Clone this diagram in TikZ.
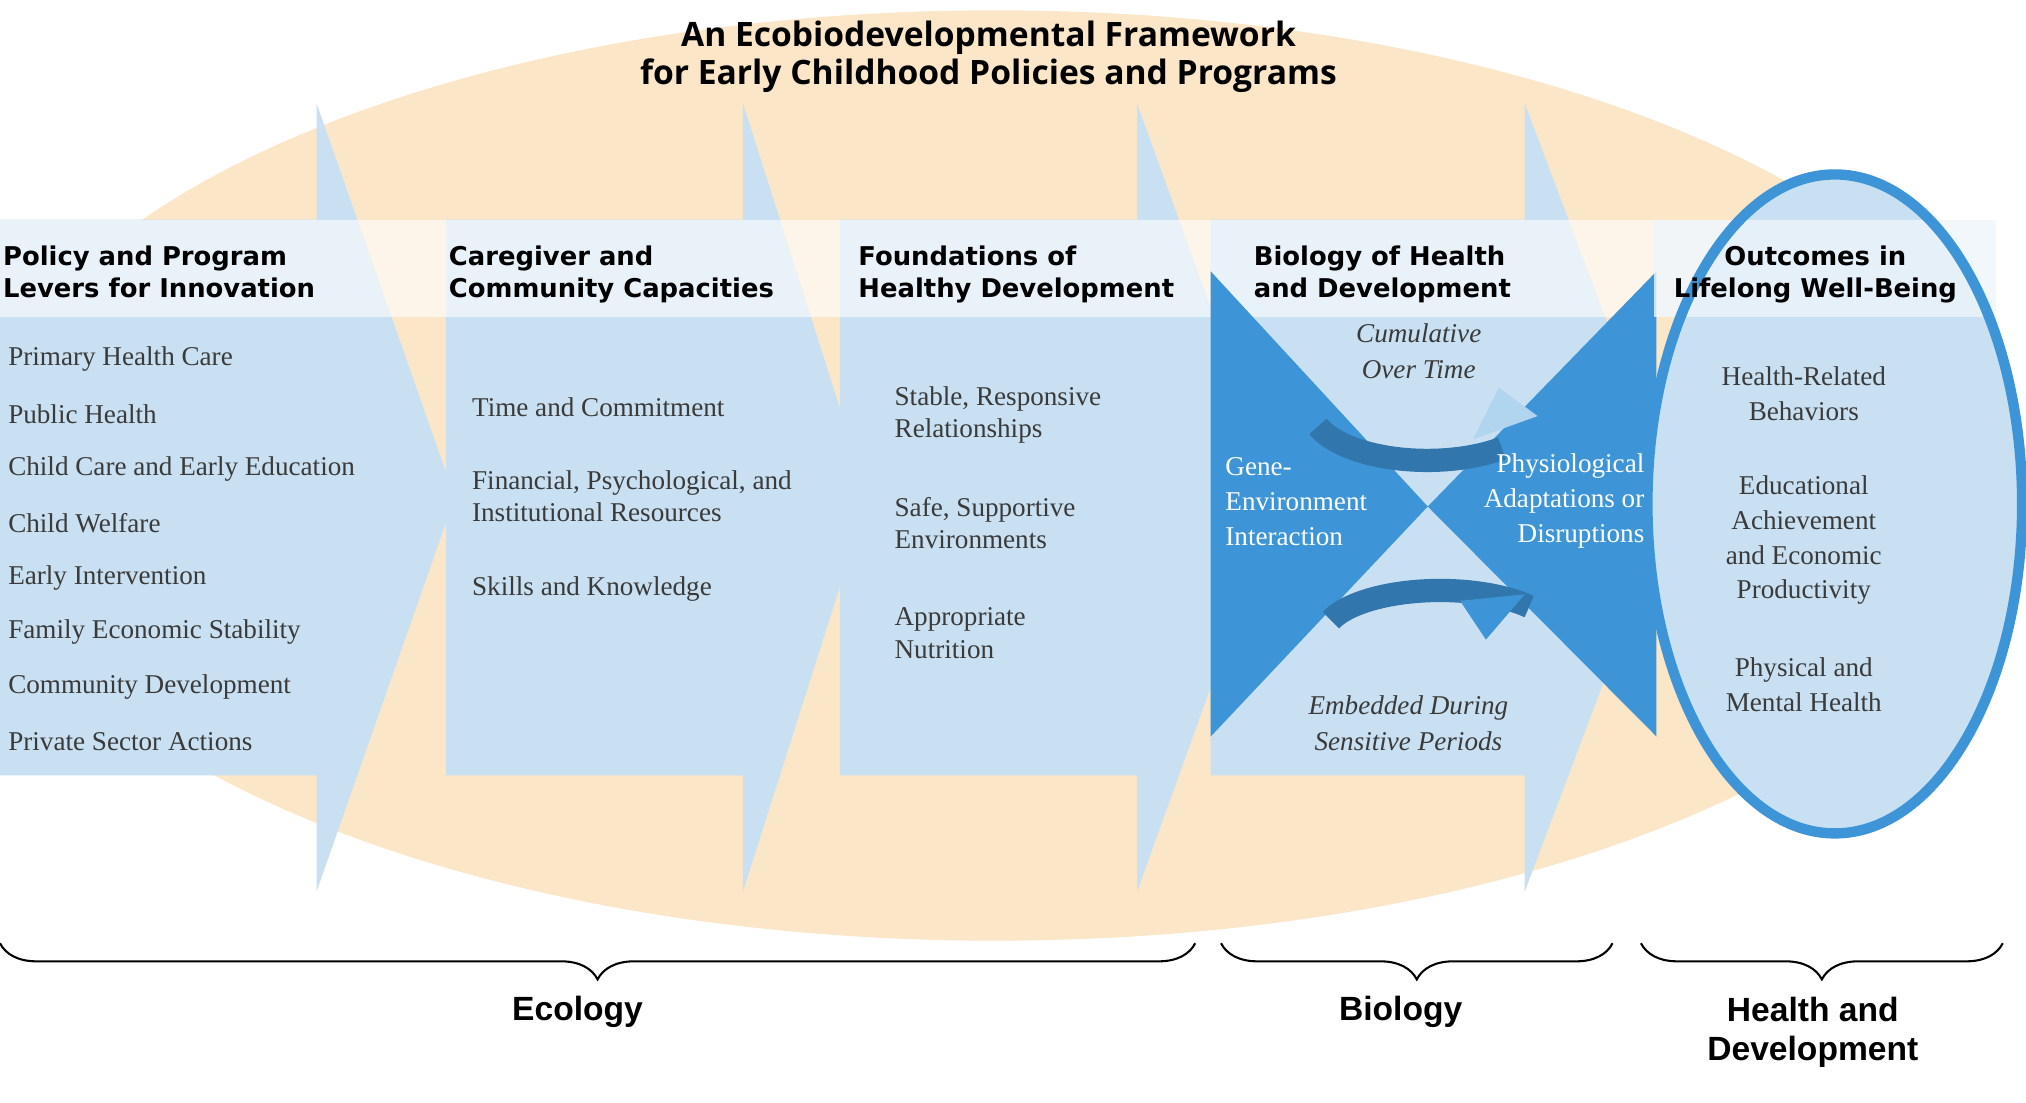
\documentclass[tikz,border=0pt]{standalone}
\usepackage{fontspec}
\setmainfont{Liberation Serif}
\newfontfamily\titlef{Open Sans}
\newfontfamily\headf{DejaVu Sans}
\newfontfamily\labf{Liberation Sans}
\usetikzlibrary{arrows.meta,decorations.pathreplacing}
\definecolor{peach}{HTML}{FCE6C8}
\definecolor{lblue}{HTML}{C8E0F1}
\definecolor{dblue}{HTML}{3D95D8}
\definecolor{hband}{HTML}{EEF5FB}
\definecolor{txt}{HTML}{3A3A3A}
\tikzset{
 head/.style={font=\headf\bfseries\fontsize{10}{12.5}\selectfont,align=left,anchor=north west,text=black,inner sep=0},
 item/.style={font=\fontsize{10.5}{12.5}\selectfont,align=left,anchor=west,text=txt,inner sep=0},
 citem/.style={font=\fontsize{10.5}{13.5}\selectfont,align=center,text=txt,inner sep=0},
 ital/.style={font=\itshape\fontsize{10.5}{14}\selectfont,align=center,text=txt,inner sep=0},
 witem/.style={font=\fontsize{10.5}{13.5}\selectfont,text=white,inner sep=0},
 brace/.style={decorate,decoration={brace,amplitude=14pt},line width=0.8pt},
 blab/.style={font=\labf\bfseries\fontsize{13}{15}\selectfont,align=center}
}
\begin{document}
\begin{tikzpicture}[x=0.5pt,y=-0.5pt]
\useasboundingbox (0,0) rectangle (1568,853);
\fill[white] (0,0) rectangle (1568,853);
\begin{scope}
\clip (0,0) rectangle (1568,853);
\fill[peach] (770,368) ellipse [x radius=790, y radius=360];
\end{scope}
% chevrons
\foreach \a/\b/\t in {0/245/352, 345/575/672, 650/880/990, 937/1180/1295}{
 \fill[lblue] (\a,170) -- (\b,170) -- (\b,80) -- (\t,385) -- (\b,690) -- (\b,600) -- (\a,600) -- cycle;
}
\fill[white,opacity=0.6] (0,170) rectangle (1540,245);
% bowtie
\fill[dblue] (937,210) -- (1105,392) -- (937,570) -- cycle;
\fill[dblue] (1282,210) -- (1105,392) -- (1282,570) -- cycle;
% circular arrows
\draw[dblue!80!black,line width=9pt] (1020,330) arc (160:50:90 and 40);
\fill[white!60!dblue] (1160,300) -- (1190,322) -- (1140,340) -- cycle;
\draw[dblue!80!black,line width=9pt] (1030,480) arc (200:320:90 and 35);
\fill[dblue] (1130,465) -- (1180,460) -- (1150,495) -- cycle;
% outcomes ellipse
\fill[lblue] (1420,390) ellipse [x radius=145, y radius=255];
\fill[hband,opacity=0.8] (1280,170) rectangle (1545,245);
\draw[dblue,line width=4pt] (1420,390) ellipse [x radius=145, y radius=255];
% title
\node[font=\titlef\bfseries\fontsize{13}{15}\selectfont,align=center,inner sep=0] (title) at (765,44) {An Ecobiodevelopmental Framework\\for Early Childhood Policies and Programs};
% headers
\node[head] (h1) at (2,190) {Policy and Program\\Levers for Innovation};
\node[head] (h2) at (347,190) {Caregiver and\\Community Capacities};
\node[head] (h3) at (664,190) {Foundations of\\Healthy Development};
\node[head] (h4) at (970,190) {Biology of Health\\and Development};
\node[head,align=center,anchor=north] (h5) at (1405,190) {Outcomes in\\Lifelong Well-Being};
% column 1
\foreach \i/\s in {0/Primary Health Care,1/Public Health,2/Child Care and Early Education,3/Child Welfare,4/Early Intervention,5/Family Economic Stability,6/Community Development,7/Private Sector Actions}
 \node[item] (c1\i) at (6,278+42.3*\i) {\s};
% column 2
\node[item] (c20) at (365,315) {Time and Commitment};
\node[item] (c21) at (365,384) {Financial, Psychological, and\\Institutional Resources};
\node[item] (c22) at (365,456) {Skills and Knowledge};
% column 3
\node[item] (c30) at (692,321) {Stable, Responsive\\Relationships};
\node[item] (c31) at (692,405) {Safe, Supportive\\Environments};
\node[item] (c32) at (692,490) {Appropriate\\Nutrition};
% column 4
\node[ital] (cum) at (1098,272) {Cumulative\\Over Time};
\node[ital] (emb) at (1090,560) {Embedded During\\Sensitive Periods};
\node[witem,align=left,anchor=west] (gene) at (948,388) {Gene-\\Environment\\Interaction};
\node[witem,align=right,anchor=east] (phys) at (1273,388) {Physiological\\Adaptations or\\Disruptions};
% column 5
\node[citem] (o1) at (1396,305) {Health-Related\\Behaviors};
\node[citem] (o2) at (1396,418) {Educational\\Achievement\\and Economic\\Productivity};
\node[citem] (o3) at (1396,530) {Physical and\\Mental Health};
% braces
\coordinate (e1) at (0,730); \coordinate (e2) at (925,730);
\coordinate (b1) at (945,730); \coordinate (b2) at (1248,730);
\coordinate (g1) at (1270,730); \coordinate (g2) at (1550,730);
\draw[brace,decoration={mirror}] (e1) -- (e2);
\draw[brace,decoration={mirror}] (b1) -- (b2);
\draw[brace,decoration={mirror}] (g1) -- (g2);
\node[blab] (eco) at (447,783) {Ecology};
\node[blab] (bio) at (1084,783) {Biology};
\node[blab] (hd) at (1403,799) {Health and\\Development};
\end{tikzpicture}
\end{document}
